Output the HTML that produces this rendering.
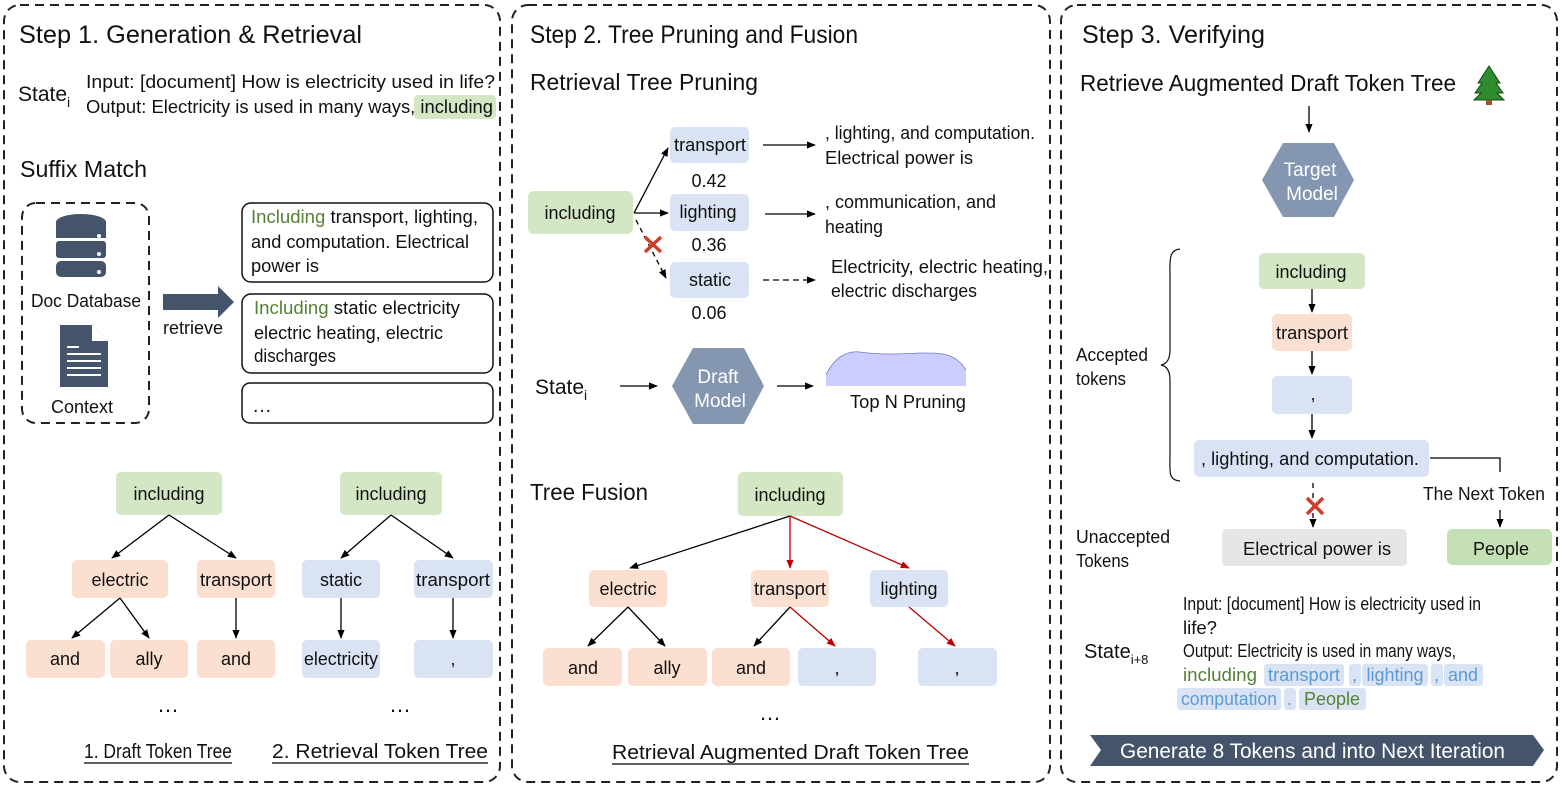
<!DOCTYPE html>
<html><head><meta charset="utf-8"><style>
html,body{margin:0;padding:0;background:#fff}
svg{display:block}
text{font-family:"Liberation Sans",sans-serif;fill:#111}
</style></head><body>
<svg width="1563" height="787" viewBox="0 0 1563 787" xmlns="http://www.w3.org/2000/svg">
<defs>
<marker id="a" viewBox="0 0 10 10" refX="9" refY="5" markerWidth="7" markerHeight="7" orient="auto"><path d="M0,1 L10,5 L0,9 z" fill="#000"/></marker>
<marker id="r" viewBox="0 0 10 10" refX="9" refY="5" markerWidth="7" markerHeight="7" orient="auto"><path d="M0,1 L10,5 L0,9 z" fill="#c00000"/></marker>
</defs>
<g fill="none" stroke="#222" stroke-width="2" stroke-dasharray="9,6">
<rect x="4" y="5" width="496" height="777" rx="16"/>
<rect x="512" y="5" width="538" height="777" rx="16"/>
<rect x="1061" y="5" width="496" height="777" rx="16"/>
<rect x="22" y="203" width="127" height="220" rx="14"/>
</g>

<!-- STEP 1 -->
<text x="19" y="43" font-size="25" textLength="343" lengthAdjust="spacingAndGlyphs">Step 1. Generation &amp; Retrieval</text>
<text x="18" y="101" font-size="21">State<tspan font-size="14" dy="6">i</tspan></text>
<rect x="414" y="95" width="82" height="24" rx="4" fill="#d4e7c5"/>
<text x="86" y="88" font-size="18" textLength="409" lengthAdjust="spacingAndGlyphs">Input:    [document] How is electricity used in life?</text>
<text x="86" y="113" font-size="18" textLength="407" lengthAdjust="spacingAndGlyphs">Output: Electricity is used in many ways, including</text>
<text x="20" y="177" font-size="23" textLength="127" lengthAdjust="spacingAndGlyphs">Suffix Match</text>
<!-- database -->
<g fill="#44546a">
<ellipse cx="81" cy="222" rx="25" ry="8"/>
<rect x="56" y="222" width="50" height="16"/>
<rect x="56" y="241" width="50" height="17" rx="3"/>
<rect x="56" y="261" width="50" height="16" rx="5"/>
</g>
<g fill="#fff"><circle cx="99" cy="236" r="2"/><circle cx="99" cy="254" r="2"/><circle cx="99" cy="272" r="2"/></g>
<text x="31" y="307" font-size="18" textLength="110" lengthAdjust="spacingAndGlyphs">Doc Database</text>
<path d="M60,325 L92,325 L108,341 L108,387 L60,387 z" fill="#44546a"/>
<path d="M92,325 L92,341 L108,341" fill="#fff"/>
<g stroke="#fff" stroke-width="2"><line x1="67" y1="347" x2="79" y2="347"/><line x1="67" y1="354" x2="101" y2="354"/><line x1="67" y1="361" x2="101" y2="361"/><line x1="67" y1="368" x2="101" y2="368"/><line x1="67" y1="375" x2="101" y2="375"/></g>
<text x="51" y="413" font-size="18" textLength="62" lengthAdjust="spacingAndGlyphs">Context</text>
<path d="M163,294 L218,294 L218,286 L234,302 L218,318 L218,310 L163,310 z" fill="#44546a"/>
<text x="163" y="334" font-size="18" textLength="60" lengthAdjust="spacingAndGlyphs">retrieve</text>
<g fill="none" stroke="#111" stroke-width="1.5">
<rect x="242" y="203" width="251" height="79" rx="9"/>
<rect x="242" y="294" width="251" height="79" rx="9"/>
<rect x="242" y="383" width="251" height="40" rx="8"/>
</g>
<g font-size="18">
<text x="251" y="223" textLength="227" lengthAdjust="spacingAndGlyphs"><tspan style="fill:#548235">Including</tspan> transport, lighting,</text>
<text x="251" y="248" textLength="218" lengthAdjust="spacingAndGlyphs">and computation. Electrical</text>
<text x="251" y="272" textLength="68" lengthAdjust="spacingAndGlyphs">power is</text>
<text x="254" y="314" textLength="206" lengthAdjust="spacingAndGlyphs"><tspan style="fill:#548235">Including</tspan> static electricity</text>
<text x="254" y="339" textLength="189" lengthAdjust="spacingAndGlyphs">electric heating, electric</text>
<text x="254" y="362" textLength="82" lengthAdjust="spacingAndGlyphs">discharges</text>
<text x="252" y="412" font-size="20">…</text>
</g>

<!-- tree 1 -->
<g font-size="18" text-anchor="middle">
<rect x="116" y="472" width="106" height="43" rx="5" fill="#d4e7c5"/><text x="169" y="500">including</text>
<rect x="72" y="560" width="96" height="38" rx="5" fill="#fbe0d1"/><text x="120" y="586">electric</text>
<rect x="197" y="560" width="78" height="38" rx="5" fill="#fbe0d1"/><text x="236" y="586" textLength="72" lengthAdjust="spacingAndGlyphs">transport</text>
<rect x="26" y="640" width="79" height="38" rx="5" fill="#fbe0d1"/><text x="65" y="665">and</text>
<rect x="110" y="640" width="78" height="38" rx="5" fill="#fbe0d1"/><text x="149" y="665">ally</text>
<rect x="197" y="640" width="78" height="38" rx="5" fill="#fbe0d1"/><text x="236" y="665">and</text>
<rect x="340" y="472" width="102" height="43" rx="5" fill="#d4e7c5"/><text x="391" y="500">including</text>
<rect x="302" y="560" width="78" height="38" rx="5" fill="#dae3f3"/><text x="341" y="586">static</text>
<rect x="414" y="560" width="79" height="38" rx="5" fill="#dae3f3"/><text x="453" y="586" textLength="74" lengthAdjust="spacingAndGlyphs">transport</text>
<rect x="302" y="640" width="78" height="38" rx="5" fill="#dae3f3"/><text x="341" y="665" textLength="74" lengthAdjust="spacingAndGlyphs">electricity</text>
<rect x="414" y="640" width="79" height="38" rx="5" fill="#dae3f3"/><text x="453" y="665">,</text>
<text x="168" y="712" font-size="22">…</text>
<text x="400" y="712" font-size="22">…</text>
</g>
<g stroke="#000" stroke-width="1.3" marker-end="url(#a)">
<line x1="169" y1="515" x2="112" y2="558"/><line x1="169" y1="515" x2="236" y2="558"/>
<line x1="120" y1="598" x2="72" y2="638"/><line x1="120" y1="598" x2="149" y2="638"/><line x1="236" y1="598" x2="236" y2="638"/>
<line x1="391" y1="515" x2="341" y2="558"/><line x1="391" y1="515" x2="453" y2="558"/>
<line x1="341" y1="598" x2="341" y2="638"/><line x1="453" y1="598" x2="453" y2="638"/>
</g>
<text x="84" y="758" font-size="20" textLength="148" lengthAdjust="spacingAndGlyphs">1. Draft Token Tree</text>
<line x1="84" y1="763" x2="232" y2="763" stroke="#000" stroke-width="1.2"/>
<text x="272" y="758" font-size="20" textLength="216" lengthAdjust="spacingAndGlyphs">2. Retrieval Token Tree</text>
<line x1="272" y1="763" x2="488" y2="763" stroke="#000" stroke-width="1.2"/>

<!-- STEP 2 -->
<text x="530" y="43" font-size="25" textLength="328" lengthAdjust="spacingAndGlyphs">Step 2. Tree Pruning and Fusion</text>
<text x="530" y="90" font-size="23" textLength="228" lengthAdjust="spacingAndGlyphs">Retrieval Tree Pruning</text>
<g font-size="18" text-anchor="middle">
<rect x="528" y="191" width="105" height="43" rx="6" fill="#d4e7c5"/><text x="580" y="219">including</text>
<rect x="670" y="127" width="79" height="36" rx="5" fill="#dae3f3"/><text x="710" y="151" textLength="72" lengthAdjust="spacingAndGlyphs">transport</text>
<rect x="670" y="194" width="79" height="37" rx="5" fill="#dae3f3"/><text x="708" y="218">lighting</text>
<rect x="670" y="262" width="79" height="36" rx="5" fill="#dae3f3"/><text x="710" y="286">static</text>
<text x="709" y="187">0.42</text><text x="709" y="251">0.36</text><text x="709" y="319">0.06</text>
</g>
<g stroke="#000" stroke-width="1.3">
<line x1="634" y1="213" x2="668" y2="148" marker-end="url(#a)"/>
<line x1="634" y1="213" x2="668" y2="213" marker-end="url(#a)"/>
<line x1="636" y1="220" x2="666" y2="278" stroke-dasharray="5,4" marker-end="url(#a)"/>
<line x1="763" y1="145" x2="815" y2="145" marker-end="url(#a)"/>
<line x1="765" y1="214" x2="815" y2="214" marker-end="url(#a)"/>
<line x1="763" y1="280" x2="815" y2="280" stroke-dasharray="6,4" marker-end="url(#a)"/>
</g>
<g stroke="#d23c2a" stroke-width="3.5"><line x1="645" y1="237" x2="661" y2="252"/><line x1="661" y1="237" x2="645" y2="252"/></g>
<g font-size="18">
<text x="825" y="139" textLength="210" lengthAdjust="spacingAndGlyphs">, lighting, and computation.</text>
<text x="825" y="164" textLength="148" lengthAdjust="spacingAndGlyphs">Electrical power is</text>
<text x="825" y="208" textLength="171" lengthAdjust="spacingAndGlyphs">, communication, and</text>
<text x="825" y="233" textLength="58" lengthAdjust="spacingAndGlyphs">heating</text>
<text x="831" y="273" textLength="217" lengthAdjust="spacingAndGlyphs">Electricity, electric heating,</text>
<text x="831" y="297" textLength="146" lengthAdjust="spacingAndGlyphs">electric discharges</text>
</g>
<text x="535" y="394" font-size="21">State<tspan font-size="14" dy="6">i</tspan></text>
<line x1="620" y1="386" x2="657" y2="386" stroke="#000" stroke-width="1.3" marker-end="url(#a)"/>
<polygon points="693,348 744,348 764,386 744,424 693,424 672,386" fill="#8496b0"/>
<text x="718" y="383" font-size="19" text-anchor="middle" style="fill:#fff">Draft</text>
<text x="720" y="407" font-size="19" text-anchor="middle" style="fill:#fff">Model</text>
<line x1="777" y1="386" x2="813" y2="386" stroke="#000" stroke-width="1.3" marker-end="url(#a)"/>
<path d="M826,386 L826,375 C833,360 845,350 860,352 C880,355 900,354 920,353 C940,353 955,352 966,370 L966,386 z" fill="#ccccff"/>
<path d="M826,375 C833,360 845,350 860,352 C880,355 900,354 920,353 C940,353 955,352 966,370" fill="none" stroke="#7777cc" stroke-width="0.8"/>
<text x="850" y="408" font-size="18" textLength="116" lengthAdjust="spacingAndGlyphs">Top N Pruning</text>

<text x="530" y="500" font-size="23" textLength="118" lengthAdjust="spacingAndGlyphs">Tree Fusion</text>
<g font-size="18" text-anchor="middle">
<rect x="738" y="472" width="105" height="44" rx="5" fill="#d4e7c5"/><text x="790" y="501">including</text>
<rect x="589" y="570" width="78" height="37" rx="5" fill="#fbe0d1"/><text x="628" y="595">electric</text>
<rect x="751" y="570" width="78" height="37" rx="5" fill="#fbe0d1"/><text x="790" y="595" textLength="72" lengthAdjust="spacingAndGlyphs">transport</text>
<rect x="870" y="570" width="78" height="37" rx="5" fill="#dae3f3"/><text x="909" y="595">lighting</text>
<rect x="543" y="648" width="79" height="38" rx="5" fill="#fbe0d1"/><text x="583" y="674">and</text>
<rect x="628" y="648" width="79" height="38" rx="5" fill="#fbe0d1"/><text x="667" y="674">ally</text>
<rect x="712" y="648" width="78" height="38" rx="5" fill="#fbe0d1"/><text x="751" y="674">and</text>
<rect x="798" y="648" width="78" height="38" rx="5" fill="#dae3f3"/><text x="837" y="674">,</text>
<rect x="918" y="648" width="79" height="38" rx="5" fill="#dae3f3"/><text x="957" y="674">,</text>
<text x="770" y="720" font-size="22">…</text>
</g>
<g stroke-width="1.3">
<line x1="790" y1="516" x2="630" y2="568" stroke="#000" marker-end="url(#a)"/>
<line x1="790" y1="516" x2="790" y2="568" stroke="#c00000" marker-end="url(#r)"/>
<line x1="790" y1="516" x2="909" y2="568" stroke="#c00000" marker-end="url(#r)"/>
<line x1="628" y1="607" x2="588" y2="646" stroke="#000" marker-end="url(#a)"/>
<line x1="628" y1="607" x2="665" y2="646" stroke="#000" marker-end="url(#a)"/>
<line x1="790" y1="607" x2="754" y2="646" stroke="#000" marker-end="url(#a)"/>
<line x1="790" y1="607" x2="835" y2="646" stroke="#c00000" marker-end="url(#r)"/>
<line x1="909" y1="607" x2="955" y2="646" stroke="#c00000" marker-end="url(#r)"/>
</g>
<text x="612" y="759" font-size="20" textLength="357" lengthAdjust="spacingAndGlyphs">Retrieval Augmented Draft Token Tree</text>
<line x1="612" y1="764" x2="969" y2="764" stroke="#000" stroke-width="1.2"/>

<!-- STEP 3 -->
<text x="1082" y="43" font-size="25" textLength="183" lengthAdjust="spacingAndGlyphs">Step 3. Verifying</text>
<text x="1080" y="91" font-size="23" textLength="376" lengthAdjust="spacingAndGlyphs">Retrieve Augmented Draft Token Tree</text>
<path d="M1489,66 L1478,83 L1482,83 L1475,93 L1481,93 L1474,100 L1504,100 L1497,93 L1503,93 L1496,83 L1500,83 z" fill="#2e8b2e" stroke="#134d13" stroke-width="1"/>
<rect x="1486" y="100" width="6" height="5" fill="#a0522d"/>
<line x1="1309" y1="106" x2="1309" y2="132" stroke="#000" stroke-width="1.3" marker-end="url(#a)"/>
<polygon points="1283,143 1334,143 1354,180 1334,217 1283,217 1262,180" fill="#8496b0"/>
<text x="1310" y="176" font-size="19" text-anchor="middle" style="fill:#fff">Target</text>
<text x="1312" y="200" font-size="19" text-anchor="middle" style="fill:#fff">Model</text>
<path d="M1180,249 C1168,250 1170,262 1170,280 L1170,350 C1170,360 1166,364 1161,365 C1166,366 1170,370 1170,380 L1170,455 C1170,472 1168,480 1180,481" fill="none" stroke="#111" stroke-width="1.2"/>
<text x="1076" y="361" font-size="18" textLength="72" lengthAdjust="spacingAndGlyphs">Accepted</text>
<text x="1076" y="385" font-size="18" textLength="50" lengthAdjust="spacingAndGlyphs">tokens</text>
<g font-size="18" text-anchor="middle">
<rect x="1259" y="253" width="106" height="36" rx="5" fill="#d4e7c5"/><text x="1311" y="278">including</text>
<rect x="1272" y="314" width="80" height="37" rx="5" fill="#fbe0d1"/><text x="1312" y="339" textLength="72" lengthAdjust="spacingAndGlyphs">transport</text>
<rect x="1272" y="376" width="80" height="38" rx="5" fill="#dae3f3"/><text x="1313" y="400">,</text>
<rect x="1194" y="440" width="235" height="37" rx="5" fill="#dae3f3"/><text x="1310" y="465" textLength="218" lengthAdjust="spacingAndGlyphs">, lighting, and computation.</text>
<rect x="1222" y="529" width="185" height="37" rx="5" fill="#e6e6e6"/><text x="1317" y="555" textLength="148" lengthAdjust="spacingAndGlyphs">Electrical power is</text>
<rect x="1447" y="529" width="105" height="36" rx="5" fill="#c5e0b4"/><text x="1501" y="555">People</text>
</g>
<g stroke="#000" stroke-width="1.3">
<line x1="1312" y1="289" x2="1312" y2="312" marker-end="url(#a)"/>
<line x1="1312" y1="351" x2="1312" y2="374" marker-end="url(#a)"/>
<line x1="1312" y1="414" x2="1312" y2="438" marker-end="url(#a)"/>
<line x1="1313" y1="483" x2="1313" y2="527" stroke-dasharray="5,5" marker-end="url(#a)"/>
<polyline points="1430,458 1500,458 1500,472" fill="none"/>
<line x1="1500" y1="510" x2="1500" y2="527" marker-end="url(#a)"/>
</g>
<g stroke="#d23c2a" stroke-width="3.5"><line x1="1307" y1="498" x2="1323" y2="514"/><line x1="1323" y1="498" x2="1307" y2="514"/></g>
<text x="1423" y="500" font-size="18" textLength="122" lengthAdjust="spacingAndGlyphs">The Next Token</text>
<text x="1076" y="543" font-size="18" textLength="94" lengthAdjust="spacingAndGlyphs">Unaccepted</text>
<text x="1076" y="567" font-size="18" textLength="53" lengthAdjust="spacingAndGlyphs">Tokens</text>
<text x="1084" y="658" font-size="20">State<tspan font-size="13" dy="6">i+8</tspan></text>
<g font-size="18">
<text x="1183" y="610" textLength="298" lengthAdjust="spacingAndGlyphs">Input:   [document] How is electricity used in</text>
<text x="1183" y="634" textLength="34" lengthAdjust="spacingAndGlyphs">life?</text>
<text x="1183" y="657" textLength="273" lengthAdjust="spacingAndGlyphs">Output:   Electricity is used in many ways,</text>
<g fill="#dae3f3">
<rect x="1264" y="664" width="80" height="22" rx="3"/>
<rect x="1349" y="664" width="12" height="22" rx="3"/>
<rect x="1362" y="664" width="66" height="22" rx="3"/>
<rect x="1431" y="664" width="12" height="22" rx="3"/>
<rect x="1444" y="664" width="39" height="22" rx="3"/>
<rect x="1177" y="688" width="104" height="22" rx="3"/>
<rect x="1284" y="688" width="12" height="22" rx="3"/>
<rect x="1299" y="688" width="67" height="22" rx="3"/>
</g>
<text x="1183" y="681" textLength="74" lengthAdjust="spacingAndGlyphs" style="fill:#548235">including</text>
<text x="1304" y="681" text-anchor="middle" textLength="72" lengthAdjust="spacingAndGlyphs" style="fill:#5b9bd5">transport</text>
<text x="1352" y="681" style="fill:#5b9bd5">,</text>
<text x="1395" y="681" text-anchor="middle" style="fill:#5b9bd5">lighting</text>
<text x="1434" y="681" style="fill:#5b9bd5">,</text>
<text x="1463" y="681" text-anchor="middle" style="fill:#5b9bd5">and</text>
<text x="1229" y="705" text-anchor="middle" textLength="96" lengthAdjust="spacingAndGlyphs" style="fill:#5b9bd5">computation</text>
<text x="1287" y="705" style="fill:#5b9bd5">.</text>
<text x="1332" y="705" text-anchor="middle" style="fill:#548235">People</text>
</g>
<polygon points="1090,735 1533,735 1544,750 1533,766 1090,766 1101,750" fill="#44546a"/>
<text x="1120" y="758" font-size="21" textLength="385" lengthAdjust="spacingAndGlyphs" style="fill:#fff">Generate 8 Tokens and into Next Iteration</text>
</svg>
</body></html>
